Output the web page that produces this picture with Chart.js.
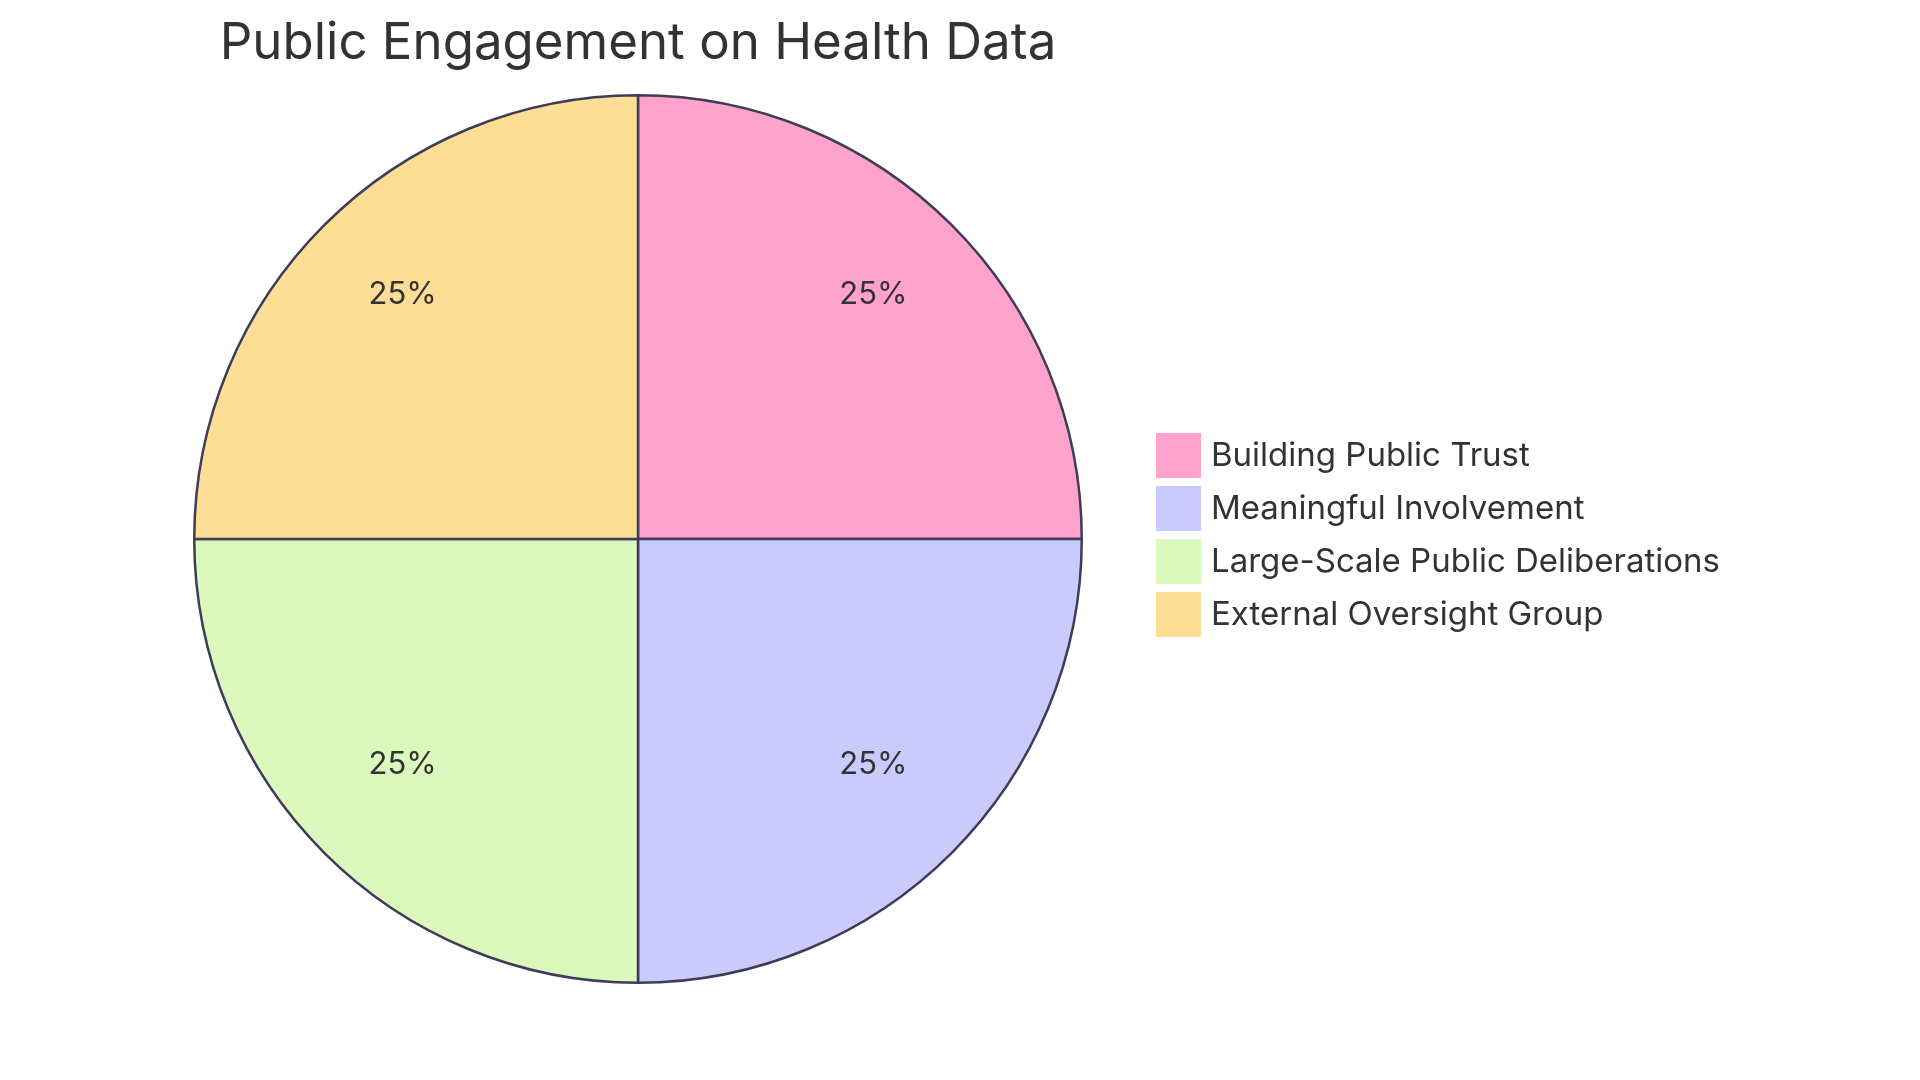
<!DOCTYPE html>
<html>
<head>
<meta charset="utf-8">
<title>Public Engagement on Health Data</title>
<script src="https://cdn.jsdelivr.net/npm/chart.js@4.4.1/dist/chart.umd.min.js"></script>
<style>
	html, body { margin: 0; padding: 0; background: #ffffff; }
	#wrap { width: 1920px; height: 1080px; position: relative; }
</style>
</head>
<body>
<div id="wrap"><canvas id="pie"></canvas></div>
<script>
	'use strict';

	var chartTitle = "Public Engagement on Health Data";
	var categories = ["Building Public Trust", "Meaningful Involvement", "Large-Scale Public Deliberations", "External Oversight Group"];
	var values = [25, 25, 25, 25];
	var sliceColors = ["#FFA3CD", "#CACAFD", "#DBF9BD", "#FEDE94"];

	var FONT = "Inter, 'Noto Sans', sans-serif";
	var TEXT_COLOR = "#333333";

	// title, percent labels and the legend are drawn by hand so they sit where the reference has them
	var pieDecorations = {
		id: 'pieDecorations',
		afterDraw: function(chart) {
			var ctx = chart.ctx;
			var meta = chart.getDatasetMeta(0);
			var data = chart.data.datasets[0].data;
			var total = data.reduce(function(a, b) { return a + b; }, 0);
			var cx = (chart.chartArea.left + chart.chartArea.right) / 2;

			ctx.save();
			ctx.fillStyle = TEXT_COLOR;

			// title
			ctx.textBaseline = 'middle';
			ctx.font = "51px " + FONT;
			ctx.textAlign = 'center';
			ctx.fillText(chart.options.plugins.pieDecorations.title, cx, 44);

			// percent labels, anchored on their baseline like the original svg text
			ctx.textBaseline = 'alphabetic';
			ctx.font = "31px " + FONT;
			meta.data.forEach(function(arc, i) {
				var p = arc.getProps(['x', 'y', 'startAngle', 'endAngle', 'outerRadius'], true);
				var mid = (p.startAngle + p.endAngle) / 2;
				var r = p.outerRadius * 0.75;
				var pct = Math.round(data[i] / total * 100) + "%";
				ctx.fillText(pct, p.x + Math.cos(mid) * r, p.y + Math.sin(mid) * r);
			});

			// legend
			var box = 45, step = 53;
			var lx = 1156;
			var ly = meta.data[0].y - 4 - (chart.data.labels.length * step - (step - box)) / 2;
			ctx.textBaseline = 'middle';
			ctx.font = "33px " + FONT;
			ctx.textAlign = 'left';
			chart.data.labels.forEach(function(label, i) {
				var y = ly + i * step;
				ctx.fillStyle = chart.data.datasets[0].backgroundColor[i];
				ctx.fillRect(lx, y, box, box);
				ctx.fillStyle = TEXT_COLOR;
				ctx.fillText(label, lx + box + 10, y + box / 2 + 1);
			});
			ctx.restore();
		}
	};

	var ctx = document.getElementById('pie').getContext('2d');
	var chart = new Chart(ctx, {
		type: 'pie',
		data: {
			labels: categories,
			datasets: [{
				data: values,
				backgroundColor: sliceColors,
				borderColor: "#3D3D5A",
				borderWidth: 2.5,
				borderAlign: 'center'
			}]
		},
		options: {
			responsive: true,
			maintainAspectRatio: false,
			animation: false,
			layout: {
				padding: { left: 193, right: 837, top: 94, bottom: 96 }
			},
			plugins: {
				legend: { display: false },
				tooltip: { enabled: false },
				title: { display: false },
				pieDecorations: { title: chartTitle }
			}
		},
		plugins: [pieDecorations]
	});
</script>
</body>
</html>
